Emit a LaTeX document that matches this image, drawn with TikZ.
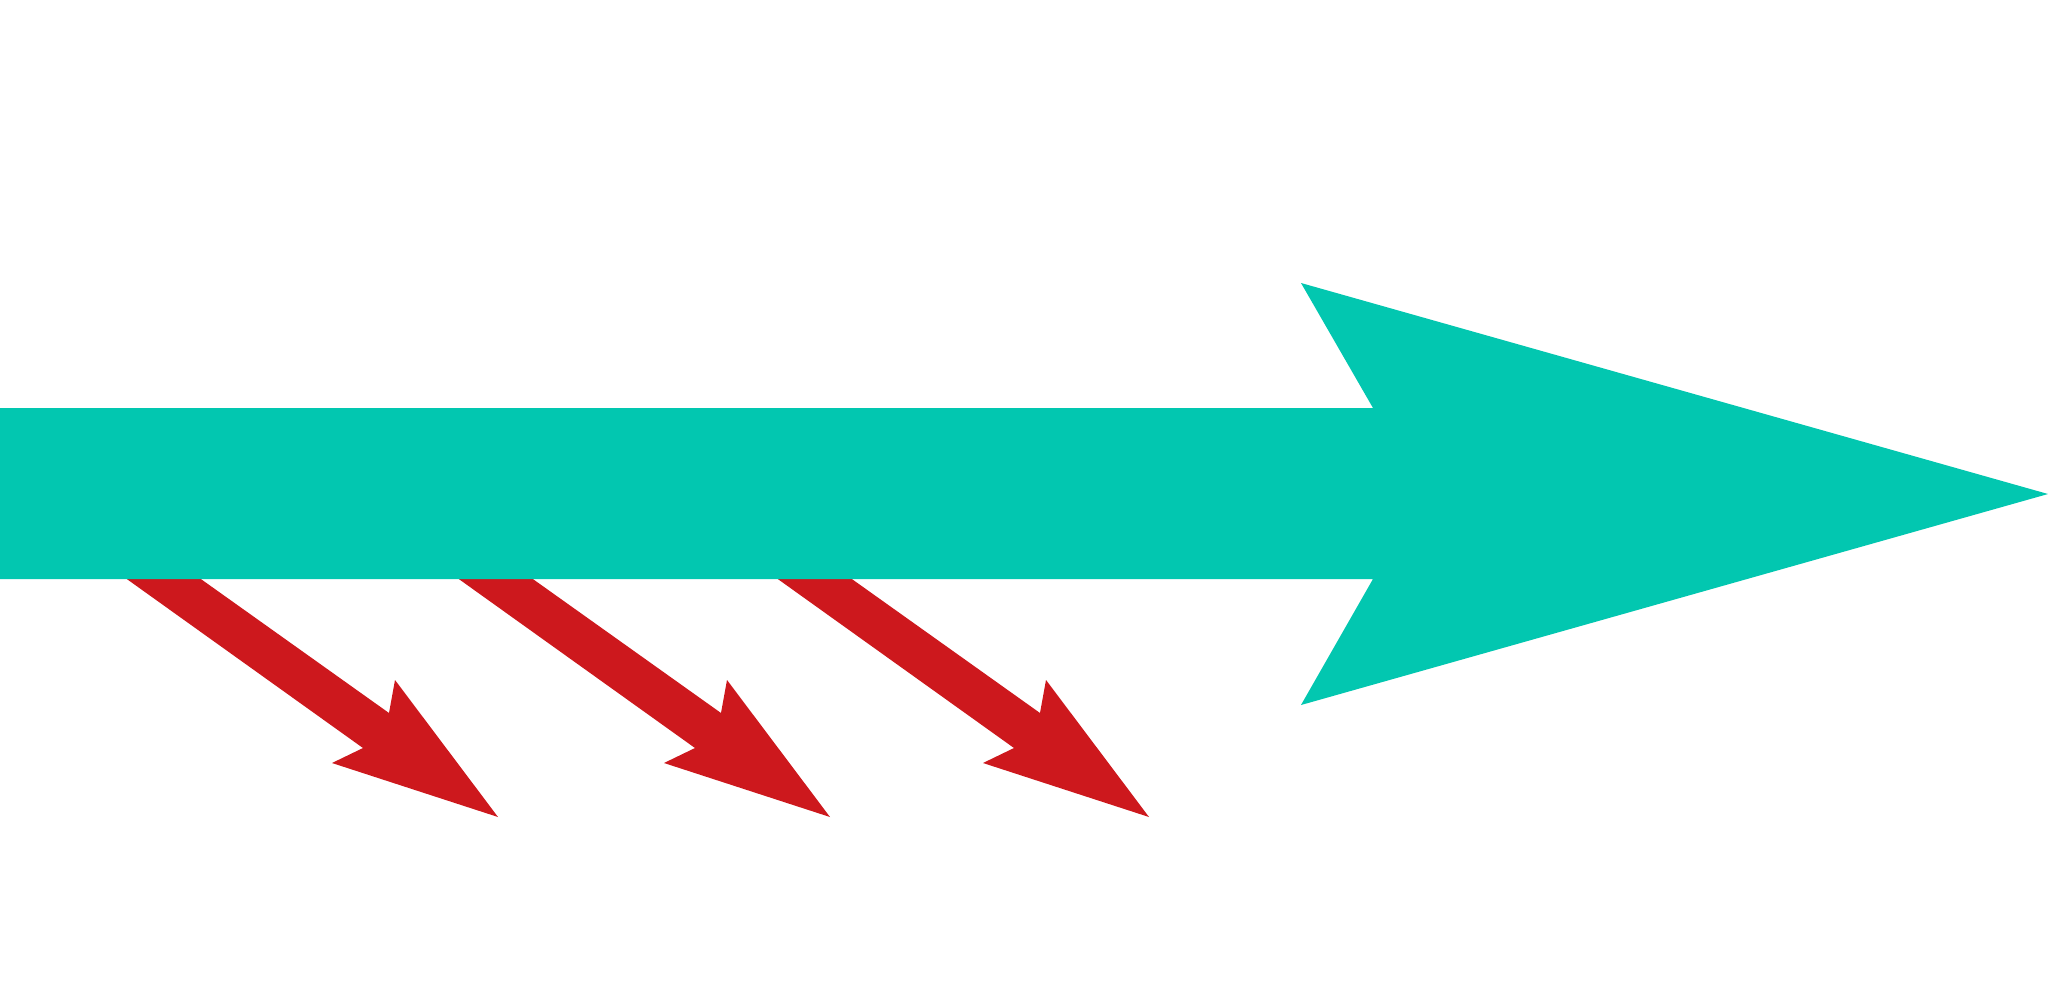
\documentclass[tikz,border=0pt]{standalone}
\definecolor{tealarrow}{RGB}{2,199,176}
\definecolor{redarrow}{RGB}{205,24,29}
\tikzset{redshape/.style={fill=redarrow,draw=none}, tealshape/.style={fill=tealarrow,draw=none}}
\begin{document}
\begin{tikzpicture}[x=1pt,y=-1pt]
\useasboundingbox (0,0) rectangle (2048,989);
\fill[white] (0,0) rectangle (2048,989);
\foreach \dx in {0,332,651}{
  \begin{scope}[xshift=\dx]
  \path[redshape] (117,572) -- (191,572) -- (389,713) -- (395,680) -- (498,817) -- (332,763) -- (363,748) -- cycle;
  \end{scope}
}
\path[tealshape] (0,408) -- (1373,408) -- (1301,283) -- (2048,494) -- (1301,705) -- (1373,579) -- (0,579) -- cycle;
\end{tikzpicture}
\end{document}
